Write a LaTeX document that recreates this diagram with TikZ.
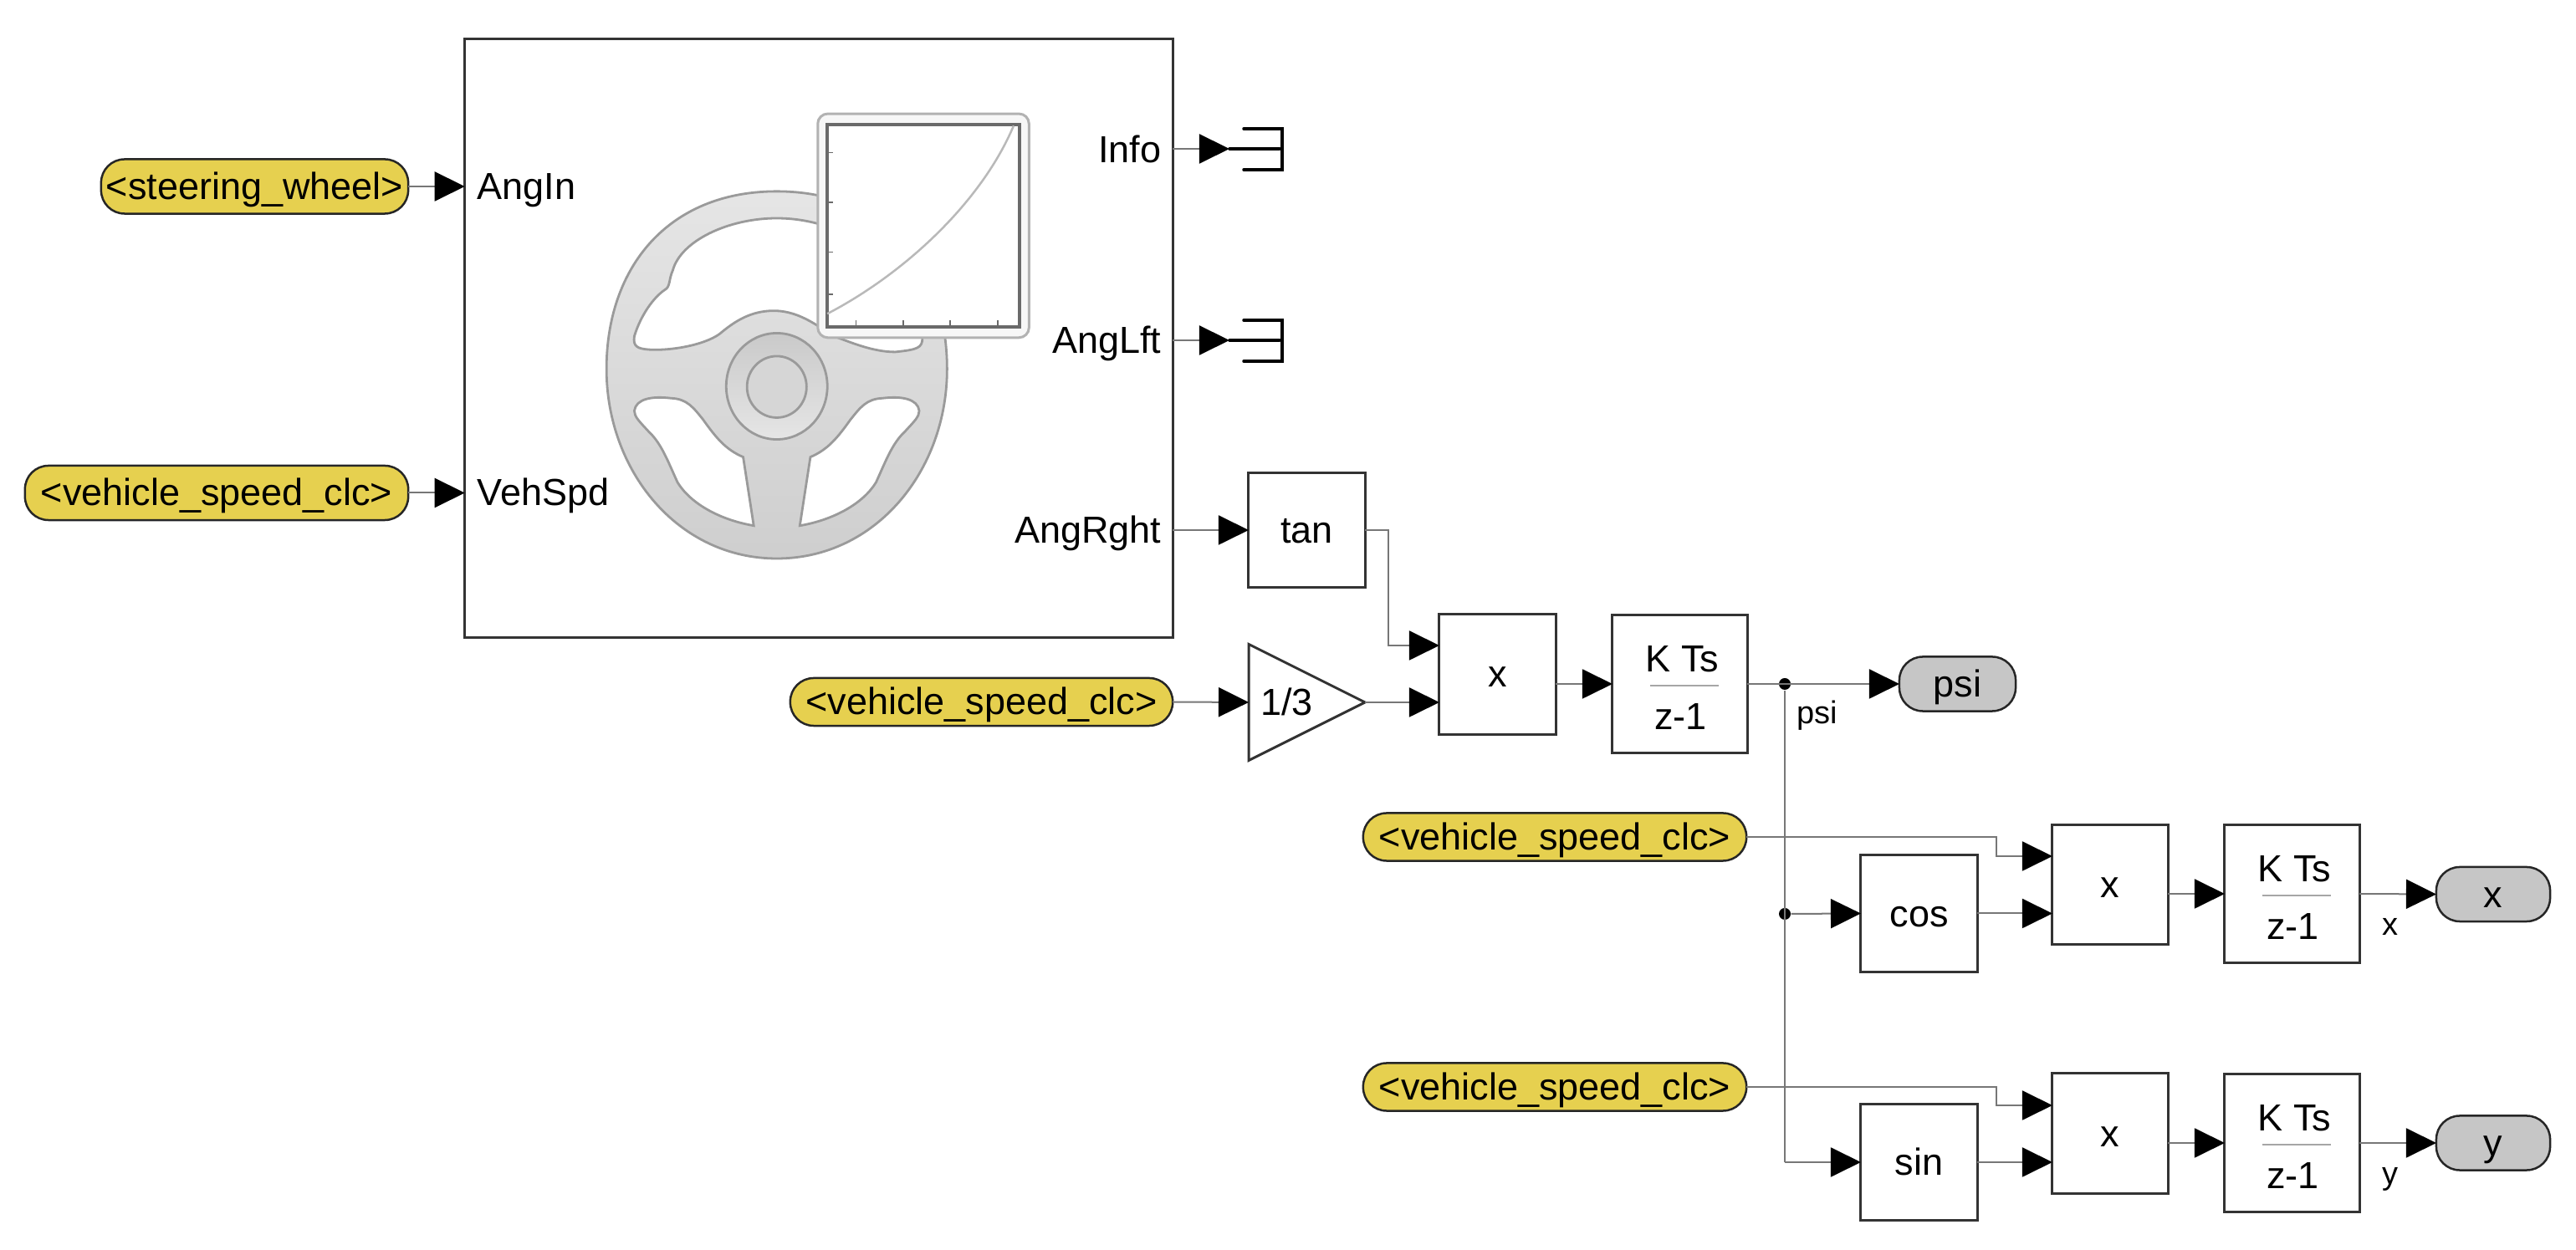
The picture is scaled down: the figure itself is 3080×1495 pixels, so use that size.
\documentclass[tikz,border=0pt]{standalone}
\usepackage{fontspec}
\setmainfont{Liberation Sans}
\usetikzlibrary{arrows.meta,shapes.geometric}
\definecolor{tagyellow}{HTML}{E6D04F}
\definecolor{taggray}{HTML}{C6C6C6}
\definecolor{edgedark}{HTML}{333333}
\definecolor{wiregray}{HTML}{777777}
\definecolor{iconedge}{HTML}{9A9A9A}
\definecolor{insetedge}{HTML}{6A6A6A}
\tikzset{
  capcentered/.style={text height=0.31cm, text depth=0cm},
  blockbox/.style={draw=edgedark, line width=0.03cm, fill=white, inner sep=0pt, outer sep=0pt, capcentered},
  pilltag/.style={draw=black!85, line width=0.025cm, rounded corners=0.28cm, inner sep=0pt, outer sep=0pt, minimum height=0.65cm, capcentered},
  fromtag/.style={pilltag, fill=tagyellow},
  gototag/.style={pilltag, fill=taggray},
  sig/.style={draw=wiregray, line width=0.02cm, -{Triangle[length=0.36cm,width=0.35cm,color=black]}},
  wire/.style={draw=wiregray, line width=0.02cm},
  jdot/.style={circle, fill=black, inner sep=0pt, minimum size=0.14cm},
  termline/.style={black, line width=0.035cm, line cap=round},
  portlabel/.style={inner sep=0pt, capcentered},
  siglabel/.style={inner sep=0pt, font=\fontsize{10.8}{13}\selectfont},
  iconline/.style={draw=iconedge, line width=0.028cm}
}
\begin{document}
\begin{tikzpicture}[x=0.01cm, y=-0.01cm, font=\fontsize{12.8}{15}\selectfont]
    \useasboundingbox (0,0) rectangle (3080,1495);

    % Main block
    \node[blockbox, minimum width=8.46cm, minimum height=7.15cm] (main) at (979,404.5) {};

    % Steering wheel icon
    \begin{scope}[shift={(680,120)}, xscale=0.3827, yscale=0.357]
        \path[iconline, top color=gray!20, bottom color=gray!38] (650,305)
            .. controls (310,305) and (118,560) .. (118,900)
            .. controls (118,1240) and (340,1535) .. (650,1535)
            .. controls (960,1535) and (1182,1240) .. (1182,900)
            .. controls (1182,560) and (990,305) .. (650,305) -- cycle;
        \path[iconline, fill=white] (205,790) .. controls (225,720) and (265,660) .. (300,635)
            .. controls (318,625) and (312,600) .. (325,570)
            .. controls (350,470) and (500,395) .. (650,395)
            .. controls (900,395) and (1105,600) .. (1105,795) .. controls (1105,830) and (1090,835) .. (1020,843)
            .. controls (950,843) and (880,810) .. (840,795) .. controls (790,770) and (730,705) .. (640,705)
            .. controls (570,705) and (520,740) .. (480,775) .. controls (440,815) and (330,840) .. (250,835)
            .. controls (215,832) and (200,825) .. (205,790) -- cycle;
        \path[iconline, fill=white] (205,1040) .. controls (210,1000) and (260,990) .. (320,998)
            .. controls (370,1000) and (390,1030) .. (420,1070) .. controls (460,1130) and (490,1170) .. (545,1195)
            -- (578,1425) .. controls (470,1405) and (380,1350) .. (340,1280)
            .. controls (310,1210) and (290,1150) .. (250,1110) .. controls (220,1075) and (205,1060) .. (205,1040) -- cycle;
        \path[iconline, fill=white] (1095,1040) .. controls (1090,1000) and (1040,990) .. (980,998)
            .. controls (930,1000) and (910,1030) .. (880,1070) .. controls (840,1130) and (810,1170) .. (755,1195)
            -- (722,1425) .. controls (830,1405) and (920,1350) .. (960,1280)
            .. controls (990,1210) and (1010,1150) .. (1050,1110) .. controls (1080,1075) and (1095,1060) .. (1095,1040) -- cycle;
        \path[iconline, top color=gray!42, bottom color=gray!20] (650,958) ellipse (158 and 178);
        \path[iconline, fill=gray!32] (650,960) ellipse (93 and 103);

        % Lookup curve inset
        \draw[draw=gray!60, line width=0.03cm, fill=gray!6, rounded corners=0.12cm] (778,45) rectangle (1438,795);
        \draw[draw=insetedge, line width=0.04cm, fill=white] (808,82) rectangle (1408,760);
        \foreach \y in {175,342,508,650} {
            \draw[insetedge] (808,\y) -- (826,\y);
        }
        \foreach \x in {897,1045,1192,1340} {
            \draw[insetedge] (\x,760) -- (\x,738);
        }
        \draw[draw=gray!55, line width=0.025cm] (808,715) .. controls (1050,580) and (1290,340) .. (1390,85);
    \end{scope}

    % Port labels of the main block
    \node[portlabel, anchor=west] (angin) at (570,223) {AngIn};
    \node[portlabel, anchor=west] (vehspd) at (570,589) {VehSpd};
    \node[portlabel, anchor=east] (infolab) at (1389,179) {Info};
    \node[portlabel, anchor=east] (anglft) at (1389,407) {AngLft};
    \node[portlabel, anchor=east] (angrght) at (1389,634) {AngRght};

    % Yellow from tags
    \node[fromtag, minimum width=3.67cm] (tagwheel) at (304.5,223) {<steering\_wheel>};
    \node[fromtag, minimum width=4.58cm] (tagspdA) at (259,589.5) {<vehicle\_speed\_clc>};
    \node[fromtag, minimum width=4.57cm, minimum height=0.57cm] (tagspdB) at (1173.5,839.5) {<vehicle\_speed\_clc>};
    \node[fromtag, minimum width=4.58cm, minimum height=0.57cm] (tagspdC) at (1859,1001) {<vehicle\_speed\_clc>};
    \node[fromtag, minimum width=4.58cm, minimum height=0.57cm] (tagspdD) at (1859,1300) {<vehicle\_speed\_clc>};

    % Math blocks
    \node[blockbox, minimum width=1.39cm, minimum height=1.37cm] (tanb) at (1562.5,634) {tan};
    \node[blockbox, isosceles triangle, isosceles triangle stretches, shape border rotate=0,
        minimum width=1.39cm, minimum height=1.39cm, anchor=lower side] (gainb) at (1493,840) {1/3};
    \node[blockbox, minimum width=1.39cm, minimum height=1.43cm] (prodA) at (1790.5,806.5) {x};
    \node[blockbox, minimum width=1.39cm, minimum height=1.39cm] (cosb) at (2294.5,1092.5) {cos};
    \node[blockbox, minimum width=1.39cm, minimum height=1.39cm] (sinb) at (2294.5,1390) {sin};
    \node[blockbox, minimum width=1.38cm, minimum height=1.43cm] (prodB) at (2523,1058) {x};
    \node[blockbox, minimum width=1.38cm, minimum height=1.43cm] (prodC) at (2523,1355.5) {x};

    % Discrete integrators
    \foreach \n/\cx/\cy in {A/2008.5/818, B/2740.5/1069, C/2740.5/1367} {
        \node[blockbox, minimum width=1.61cm, minimum height=1.65cm] (dt\n) at (\cx,\cy) {};
        \node[inner sep=0pt, capcentered] (num\n) at (\cx+3,\cy-30) {K Ts};
        \node[inner sep=0pt, capcentered] (den\n) at (\cx+1,\cy+39) {z-1};
        \draw[draw=gray!70, line width=0.02cm] (\cx-36,\cy+2) -- (\cx+46,\cy+2);
    }

    % Gray goto tags
    \node[gototag, minimum width=1.39cm] (psitag) at (2340.5,818) {psi};
    \node[gototag, minimum width=1.36cm] (xtag) at (2981,1069.5) {x};
    \node[gototag, minimum width=1.36cm] (ytag) at (2981,1367) {y};

    % Branch points and bends
    \node[jdot] (jpsi) at (2134,818) {};
    \node[jdot] (jcos) at (2134,1093) {};
    \coordinate (pAinA) at (prodA.west |- 0,772);
    \coordinate (pAinB) at (prodA.west |- 0,840);
    \coordinate (pBinA) at (prodB.west |- 0,1024);
    \coordinate (pBinB) at (prodB.west |- 0,1092.5);
    \coordinate (pCinA) at (prodC.west |- 0,1322);
    \coordinate (pCinB) at (prodC.west |- 0,1390);
    \coordinate (bendB) at (2387,1024);
    \coordinate (bendC) at (2387,1322);

    % Connectors into and out of the main block
    \draw[sig] (tagwheel.east) -- (main.west |- tagwheel.east);
    \draw[sig] (tagspdA.east) -- (main.west |- tagspdA.east);
    \draw[sig] (main.east |- tanb.west) -- (tanb.west);

    % Terminators
    \foreach \n/\y in {info/178, lft/407} {
        \coordinate (tm\n) at (1470,\y);
        \draw[sig] (main.east |- tm\n) -- (tm\n);
        \draw[termline] (tm\n) -- ++(60,0);
        \draw[termline] (1487,\y-24) -- (1533,\y-24) -- (1533,\y+25) -- (1487,\y+25);
    }

    % Heading path
    \draw[sig] (tanb.east) -- ++(28,0) |- (pAinA);
    \draw[sig] (tagspdB.east) -- (gainb.lower side);
    \draw[sig] (gainb.apex) -- (pAinB);
    \draw[sig] (prodA.east |- dtA.west) -- (dtA.west);
    \draw[sig] (dtA.east) -- (psitag.west);
    \draw[wire] (jpsi) -- (jpsi |- sinb.west);
    \draw[sig] (jpsi |- sinb.west) -- (sinb.west);
    \draw[sig] (jcos) -- (cosb.west);

    % Position paths
    \draw[sig] (tagspdC.east) -- (bendB |- tagspdC.east) -- (bendB) -- (pBinA);
    \draw[sig] (cosb.east) -- (pBinB);
    \draw[sig] (prodB.east |- dtB.west) -- (dtB.west);
    \draw[sig] (dtB.east) -- (xtag.west);
    \draw[sig] (tagspdD.east) -- (bendC |- tagspdD.east) -- (bendC) -- (pCinA);
    \draw[sig] (sinb.east) -- (pCinB);
    \draw[sig] (prodC.east |- dtC.west) -- (dtC.west);
    \draw[sig] (dtC.east) -- (ytag.west);

    % Signal labels
    \node[siglabel, anchor=base west] (psilab) at (2148,866) {psi};
    \node[siglabel] (xlab) at (2858,1108) {x};
    \node[siglabel] (ylab) at (2858,1410) {y};
\end{tikzpicture}
\end{document}
